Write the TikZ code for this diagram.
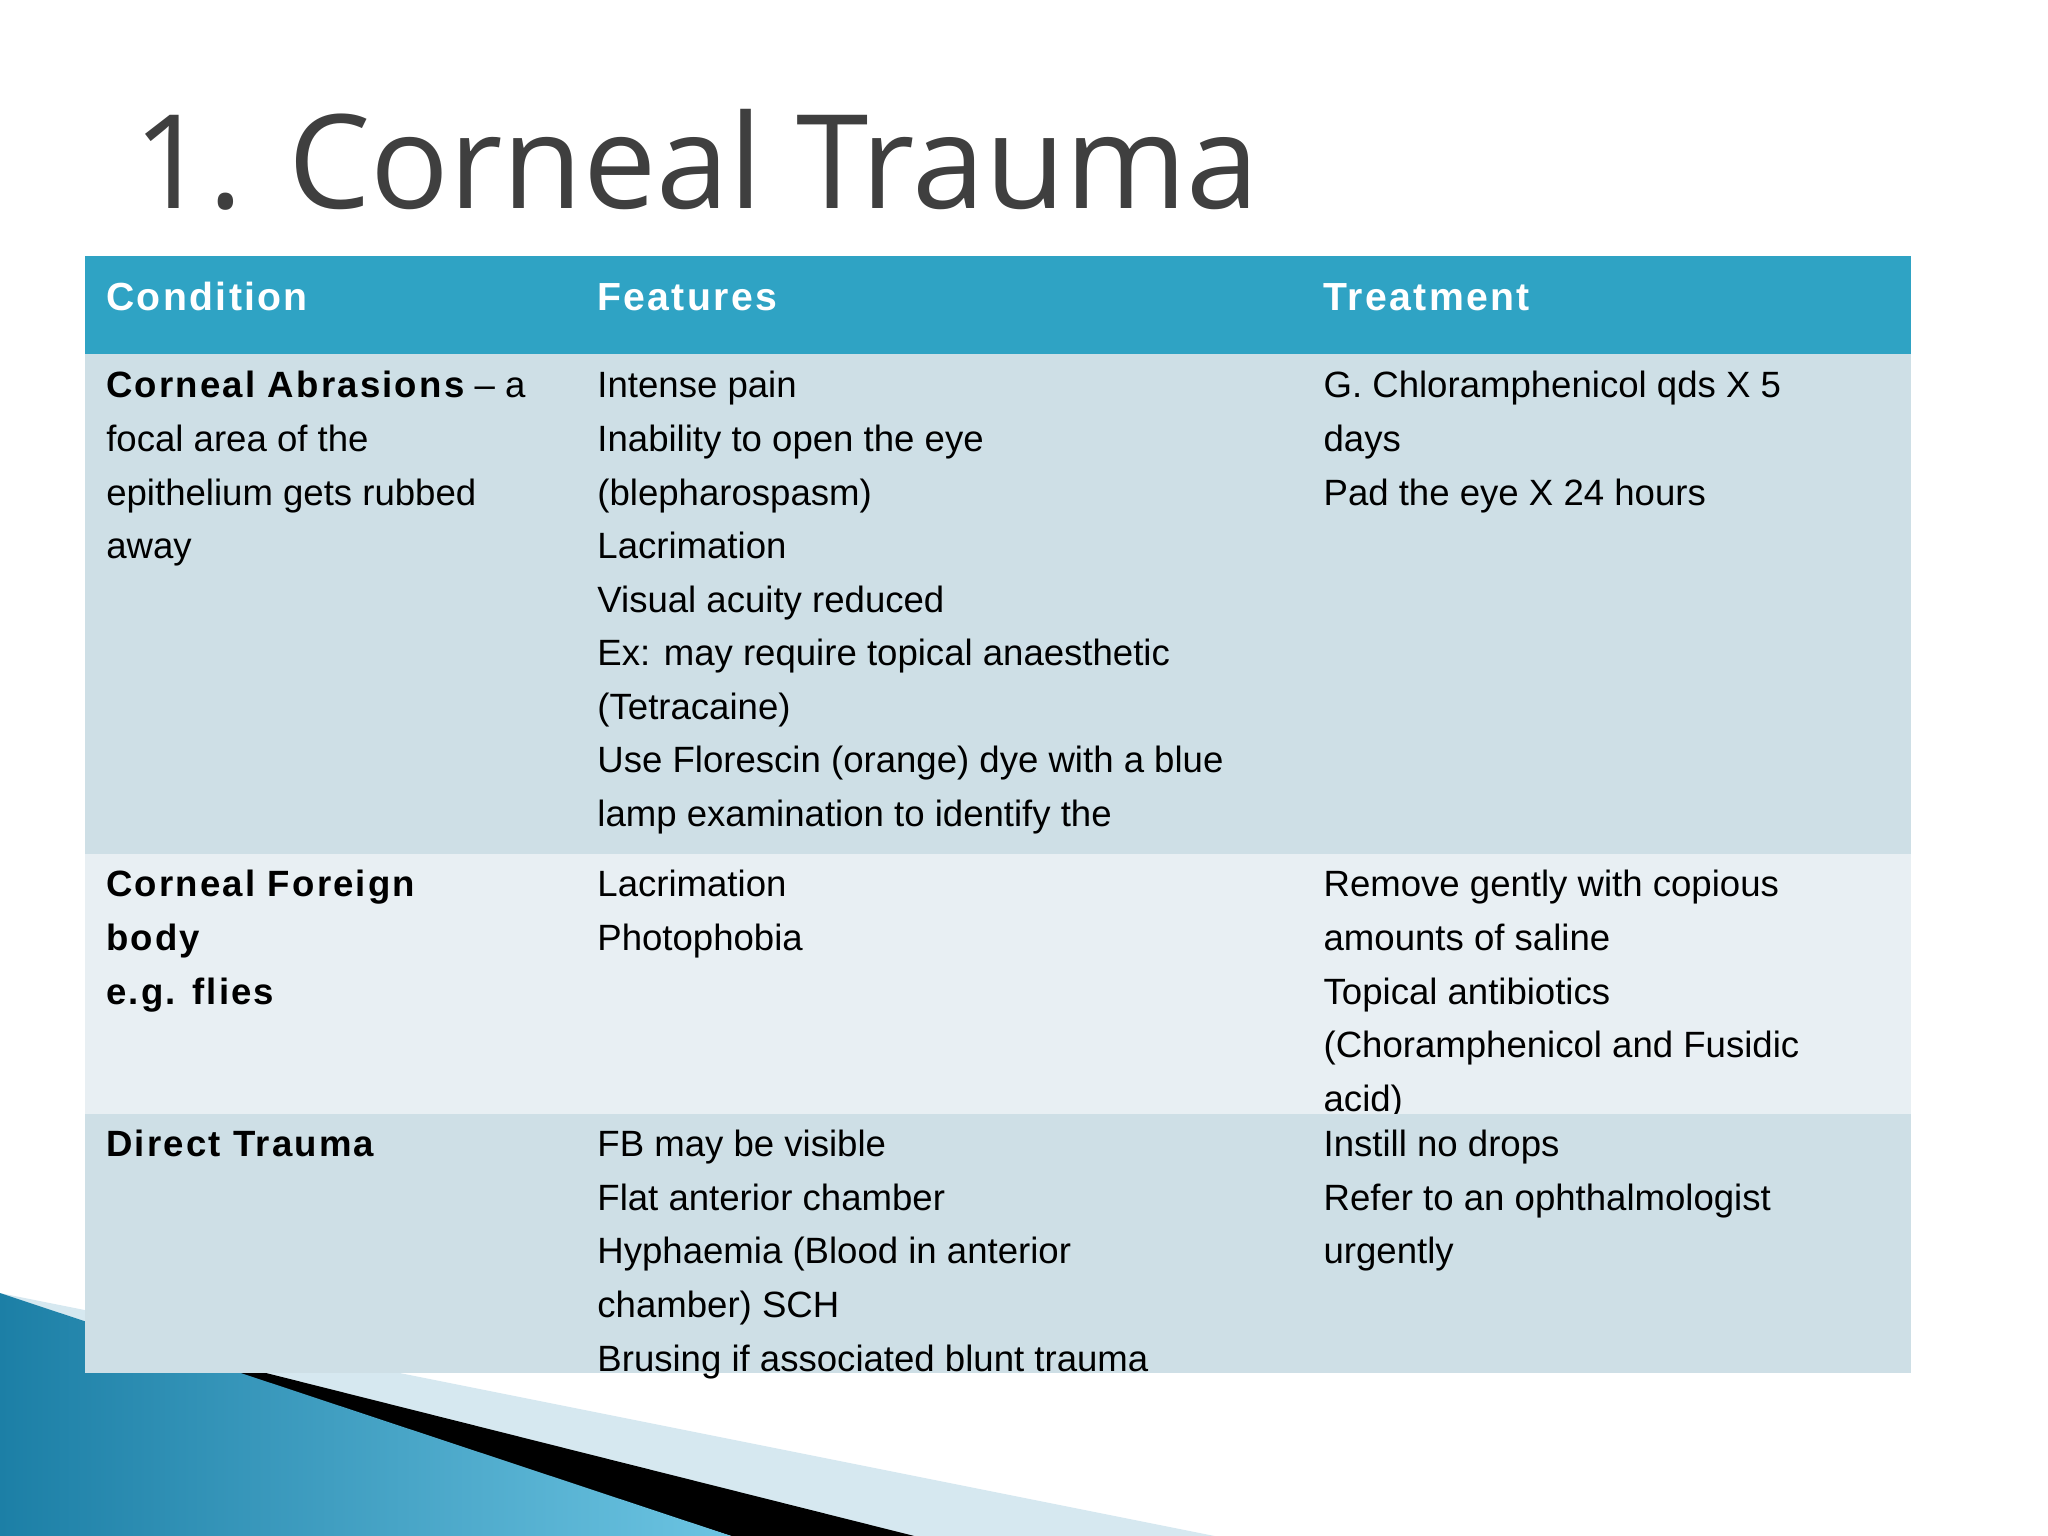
\documentclass[tikz,border=0pt]{standalone}
\usepackage{fontspec}
\setmainfont{Liberation Sans}
\newfontfamily\titlefont{Open Sans}
\newfontfamily\spbold[LetterSpace=6]{Liberation Sans Bold}
\definecolor{hdr}{HTML}{2FA3C4}
\definecolor{rowa}{HTML}{CEDFE6}
\definecolor{rowb}{HTML}{E8EFF3}
\definecolor{ttl}{HTML}{3F3F3F}
\definecolor{swa}{HTML}{1C7FA6}
\definecolor{swb}{HTML}{6CC4E2}
\definecolor{swl}{HTML}{D6E8F0}
\tikzset{cell/.style={anchor=north west,inner sep=0pt,align=left,font=\fontsize{14}{20.5}\selectfont},
hd/.style={anchor=base west,inner sep=0pt,text=white,font=\fontsize{15}{18}\spbold}}
\begin{document}
\begin{tikzpicture}[x=0.5pt,y=-0.5pt]
\useasboundingbox (0,0) rectangle (1568,1176);
% decoration
\fill[swl] (0,990) -- (930,1176) -- (0,1176) -- cycle;
\fill[black] (0,1000) -- (700,1176) -- (560,1176) -- cycle;
\shade[left color=swa,right color=swb] (0,990) -- (560,1176) -- (0,1176) -- cycle;
% title
\node[anchor=base west,inner sep=0pt,text=ttl,font=\fontsize{50}{60}\titlefont] (title) at (102,160) {1. Corneal Trauma};
% table
\fill[hdr] (65,196) rectangle (1463,271);
\fill[rowa] (65,271) rectangle (1463,654);
\node[hd] (h1) at (81,238) {Condition};
\node[hd] (h2) at (457,238) {Features};
\node[hd] (h3) at (1013,238) {Treatment};
\node[cell] (a1) at (81,284) {{\spbold Corneal Abrasions} – a\\focal area of the\\epithelium gets rubbed\\away};
\node[cell] (a2) at (457,284) {Intense pain\\Inability to open the eye\\(blepharospasm)\\Lacrimation\\Visual acuity reduced\\Ex: may require topical anaesthetic\\(Tetracaine)\\Use Florescin (orange) dye with a blue\\lamp examination to identify the};
\node[cell] (a3) at (1013,284) {G. Chloramphenicol qds X 5\\days\\Pad the eye X 24 hours};
\fill[rowb] (65,654) rectangle (1463,853);
\node[cell] (b1) at (81,666) {\spbold Corneal Foreign\\\spbold body\\\spbold e.g. flies};
\node[cell] (b2) at (457,666) {Lacrimation\\Photophobia};
\node[cell] (b3) at (1013,666) {Remove gently with copious\\amounts of saline\\Topical antibiotics\\(Choramphenicol and Fusidic\\acid)};
\fill[rowa] (65,853) rectangle (1463,1051);
\node[cell] (c1) at (81,865) {\spbold Direct Trauma};
\node[cell] (c2) at (457,865) {FB may be visible\\Flat anterior chamber\\Hyphaemia (Blood in anterior\\chamber) SCH\\Brusing if associated blunt trauma};
\node[cell] (c3) at (1013,865) {Instill no drops\\Refer to an ophthalmologist\\urgently};
\end{tikzpicture}
\end{document}
